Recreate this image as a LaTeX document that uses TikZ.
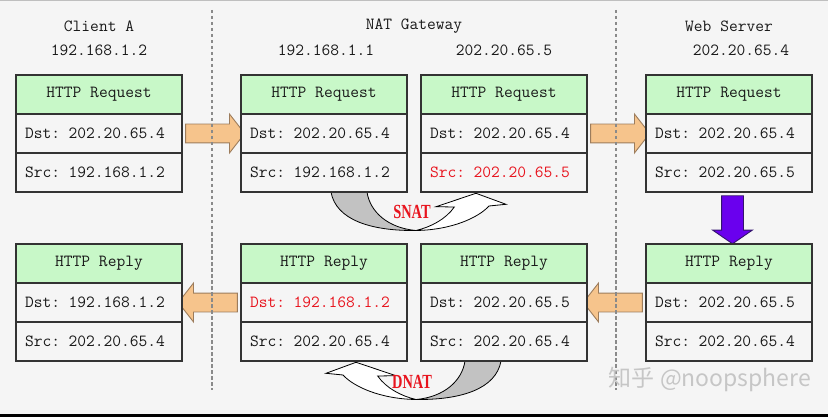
\documentclass[tikz,border=0pt]{standalone}
\usepackage{fontspec}
\usepackage{graphicx}
\usetikzlibrary{shapes.arrows,calc}
\newfontfamily\natf{Liberation Serif}
\newfontfamily\cjkf{Noto Sans CJK SC}
\definecolor{bg}{HTML}{F5F5F5}
\definecolor{hdr}{HTML}{C8F8C8}
\definecolor{orf}{HTML}{F6C48C}
\definecolor{ord}{HTML}{9C7C5C}
\definecolor{pur}{HTML}{6A00EE}
\definecolor{purd}{HTML}{34146E}
\definecolor{natred}{HTML}{E8141E}
\definecolor{wm}{HTML}{C6C6C6}
\definecolor{divg}{HTML}{8A8A8A}
\begin{document}
\begin{tikzpicture}[x=1pt,y=-1pt,
  every node/.style={inner sep=0pt, outer sep=0pt},
  lbl/.style={font=\ttfamily\fontsize{17}{19}\selectfont, text=black!90},
  hdrbox/.style={lbl, draw=black!80, line width=1.2pt, fill=hdr, minimum width=166pt, minimum height=39pt, anchor=north west},
  rowbox/.style={lbl, draw=black!80, line width=1.2pt, fill=bg, minimum width=166pt, minimum height=39pt, anchor=north west, text width=148pt, align=left, inner xsep=9pt},
  orarrow/.style={single arrow, draw=ord, fill=orf, line width=0.9pt, inner xsep=0pt, inner ysep=9pt, minimum height=59pt, single arrow head extend=10pt, single arrow tip angle=104},
  purarrow/.style={single arrow, draw=purd, fill=pur, line width=0.9pt, inner xsep=0pt, inner ysep=10.5pt, minimum height=48pt, single arrow head extend=9pt, single arrow tip angle=111, rotate=-90},
  natlbl/.style={font=\natf\bfseries\fontsize{20}{21}\selectfont, text=natred},
  natarrow/.pic={
    \draw[line width=0.8pt, fill=white] (0,38.5) .. controls (35,38) and (62,26) .. (73,14) -- (90,12.3) -- (60,1.3) -- (20,14.7) -- (38.3,15) .. controls (30,27) and (15,35) .. (0,38.5) -- cycle;
    \draw[line width=0.8pt, fill=black!24] (-85,0) .. controls (-80,28) and (-45,39) .. (0,38.5) .. controls (-28,36) and (-46,20) .. (-49,0) -- cycle;
  }
]
\useasboundingbox (0,0) rectangle (828,417);
\fill[bg] (0,0) rectangle (828,417);
\draw[black!25, line width=1pt] (0,0.5) -- (828,0.5);
\fill[black] (0,414) rectangle (828,417);

% block arrows (placed between the box columns, drawn under the boxes)
\coordinate (m12) at (211.5,133.5);
\coordinate (m34) at (616.5,133.5);
\coordinate (m21) at (211.5,302.5);
\coordinate (m43) at (616.5,302.5);
\node[orarrow] (a12) at (m12) {};
\node[orarrow] (a34) at (m34) {};
\node[orarrow, shape border rotate=180] (b21) at (m21) {};
\node[orarrow, shape border rotate=180] (b43) at (m43) {};
\node[purarrow] (down) at (732.5,216) {};

% dividers
\draw[divg, line width=1.6pt, dash pattern=on 3.5pt off 2.5pt] (212,10) -- (212,390);
\draw[divg, line width=1.6pt, dash pattern=on 3.5pt off 2.5pt] (616,10) -- (616,390);

% titles
\node[lbl] (tA) at (99,26) {Client A};
\node[lbl] (tAip) at (99,50) {192.168.1.2};
\node[lbl] (tN) at (414,26) {NAT Gateway};
\node[lbl] (tNip1) at (326,50) {192.168.1.1};
\node[lbl] (tNip2) at (504,50) {202.20.65.5};
\node[lbl] (tW) at (729,26) {Web Server};
\node[lbl] (tWip) at (741,50) {202.20.65.4};

% NAT curved arrows (behind boxes)
\pic at (416,192) {natarrow};
\pic[xscale=-1] at (416,361) {natarrow};
\node[natlbl] (snat) at (412,212) {\scalebox{0.72}[1]{SNAT}};
\node[natlbl] (dnat) at (412,381.5) {\scalebox{0.72}[1]{DNAT}};

% top row boxes
\node[hdrbox] (c1h) at (16,75) {HTTP Request};
\node[rowbox] (c1d) at (16,114) {Dst: 202.20.65.4};
\node[rowbox] (c1s) at (16,153) {Src: 192.168.1.2};
\node[hdrbox] (c2h) at (241,75) {HTTP Request};
\node[rowbox] (c2d) at (241,114) {Dst: 202.20.65.4};
\node[rowbox] (c2s) at (241,153) {Src: 192.168.1.2};
\node[hdrbox] (c3h) at (421,75) {HTTP Request};
\node[rowbox] (c3d) at (421,114) {Dst: 202.20.65.4};
\node[rowbox] (c3s) at (421,153) {\textcolor{natred}{Src: 202.20.65.5}};
\node[hdrbox] (c4h) at (646,75) {HTTP Request};
\node[rowbox] (c4d) at (646,114) {Dst: 202.20.65.4};
\node[rowbox] (c4s) at (646,153) {Src: 202.20.65.5};

% bottom row boxes
\node[hdrbox] (r1h) at (16,244) {HTTP Reply};
\node[rowbox] (r1d) at (16,283) {Dst: 192.168.1.2};
\node[rowbox] (r1s) at (16,322) {Src: 202.20.65.4};
\node[hdrbox] (r2h) at (241,244) {HTTP Reply};
\node[rowbox] (r2d) at (241,283) {\textcolor{natred}{Dst: 192.168.1.2}};
\node[rowbox] (r2s) at (241,322) {Src: 202.20.65.4};
\node[hdrbox] (r3h) at (421,244) {HTTP Reply};
\node[rowbox] (r3d) at (421,283) {Dst: 202.20.65.5};
\node[rowbox] (r3s) at (421,322) {Src: 202.20.65.4};
\node[hdrbox] (r4h) at (646,244) {HTTP Reply};
\node[rowbox] (r4d) at (646,283) {Dst: 202.20.65.5};
\node[rowbox] (r4s) at (646,322) {Src: 202.20.65.4};

% watermark
\node[font=\cjkf\fontsize{23}{25}\selectfont, text=wm] (wmk) at (710,379) {知乎 @noopsphere};
\end{tikzpicture}
\end{document}
